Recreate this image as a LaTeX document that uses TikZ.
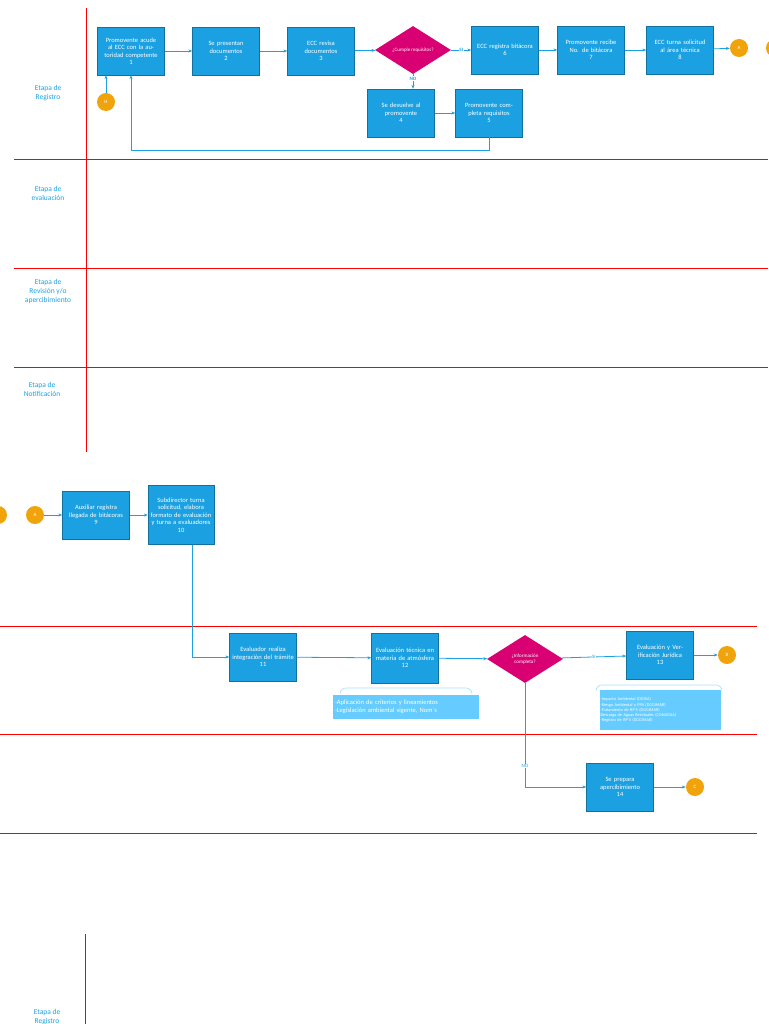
\documentclass[tikz,border=0pt]{standalone}
\usepackage{fontspec}
\setmainfont{Carlito}
\usetikzlibrary{shapes.geometric,arrows.meta}
\definecolor{bx}{HTML}{1BA1E2}
\definecolor{mg}{HTML}{D80073}
\definecolor{og}{HTML}{F0A30A}
\definecolor{lb}{HTML}{66CCFF}
\definecolor{lab}{HTML}{1BA1E2}
\begin{document}
\begin{tikzpicture}[x=1pt,y=-1pt,
 box/.style={fill=bx,draw=bx!70!black,line width=0.3pt,minimum width=67pt,minimum height=48pt,text width=62pt,align=center,text=white,font=\fontsize{6.5}{7.5}\selectfont,inner sep=1pt},
 dia/.style={diamond,aspect=1.6,fill=mg,minimum width=76pt,minimum height=48pt,inner sep=0pt,text=white,font=\fontsize{5}{6}\selectfont,align=center},
 circ/.style={circle,fill=og,minimum size=18pt,inner sep=0pt,text=white,font=\fontsize{5}{6}\selectfont},
 arr/.style={draw=bx,line width=0.8pt,-{Stealth[length=4pt]}},
 ln/.style={draw=bx,line width=0.8pt},
 red/.style={draw=red,line width=1pt},
 lane/.style={text=lab,align=center,font=\fontsize{7.5}{9}\selectfont},
 lbl/.style={text=bx,font=\fontsize{5}{6}\selectfont,fill=white,inner sep=0.5pt}]
\useasboundingbox (0,0) rectangle (768,1024);
% lanes
\draw[red] (86,8) -- (86,452);
\foreach \y in {160,268,367} \draw[red] (14,\y) -- (768,\y);
\foreach \y in {626,734,833} \draw[red] (0,\y) -- (757,\y);
\draw[red] (85,934) -- (85,1024);
\node[lane] at (48,93) {Etapa de\\Registro};
\node[lane] at (48,193) {Etapa de\\evaluación};
\node[lane] at (48,291) {Etapa de\\Revisión y/o\\apercibimiento};
\node[lane] at (42,389) {Etapa de\\Notificación};
\node[lane] at (47,1017) {Etapa de\\Registro};
% top
\node[box] (b1) at (131,51) {Promovente acude al ECC con la autoridad competente\\1};
\node[box] (b2) at (226,51) {Se presentan documentos\\2};
\node[box] (b3) at (321,51) {ECC revisa documentos\\3};
\node[dia] (d1) at (413,50) {¿Cumple requisitos?};
\node[box] (b6) at (505,50) {ECC registra bitácora\\6};
\node[box] (b7) at (591,50) {Promovente recibe No. de bitácora\\7};
\node[box] (b8) at (680,50) {ECC turna solicitud al área técnica\\8};
\node[circ] (cA) at (739,48) {A};
\node[circ] (cX) at (775,48) {};
\node[box] (b4) at (401,113) {Se devuelve al promovente\\4};
\node[box] (b5) at (489,113) {Promovente completa requisitos\\5};
\node[circ] (cH) at (106,102) {H};
\draw[arr] (b1) -- (b2);
\draw[arr] (b2) -- (b3);
\draw[arr] (b3) -- (d1);
\draw[arr] (d1) -- node[lbl]{\textbf{SI}} (b6);
\draw[arr] (b6) -- (b7);
\draw[arr] (b7) -- (b8);
\draw[arr] (b8) -- (cA);
\draw[arr] (d1.south) -- node[lbl,pos=0.3]{\textbf{NO}} (d1.south|-b4.north);
\draw[arr] (b4) -- (b5);
\draw[arr] (b5.south) |- (131,150) -- (b1.south);
\draw[arr] (cH) -- (cH|-b1.south);
% second part
\node[circ] (cY) at (-2,515) {};
\node[circ] (cA2) at (35,515) {A};
\node[box] (b9) at (96,515) {Auxiliar registra llegada de bitácoras\\9};
\node[box,minimum width=66pt,minimum height=59pt] (b10) at (181,515) {Subdirector turna solicitud, elabora formato de evaluación y turna a evaluadores\\10};
\node[box] (b11) at (263,657) {Evaluador realiza integración del trámite\\11};
\node[box,minimum height=50pt] (b12) at (405,658) {Evaluación técnica en materia de atmósfera\\12};
\node[dia] (d2) at (525,659) {¿Información\\completa?};
\node[box] (b13) at (660,655) {Evaluación y Verificación Jurídica\\13};
\node[circ] (cB) at (727,655) {B};
\node[box] (b14) at (620,787) {Se prepara apercibimiento\\14};
\node[circ] (cC) at (695,787) {C};
\node[fill=lb,minimum width=146pt,minimum height=24pt,text width=142pt,inner sep=1pt,text=white,font=\fontsize{6.5}{7.5}\selectfont,align=left] (n1) at (406,707) {-Aplicación de criterios y lineamientos\\-Legislación ambiental  vigente, Nom´s};
\node[fill=lb,minimum width=121pt,minimum height=40pt,text width=119pt,inner sep=1pt,text=white,font=\fontsize{4.3}{5.2}\selectfont,align=left] (n2) at (660,710) {-Impacto Ambiental (DGIRA)\\-Riesgo Ambiental y PPA (DGGIMAR)\\-Tratamiento de RP'S (DGGIMAR)\\Descarga de Aguas Residuales (CONAGUA)\\-Registro de RP´S (DGGIMAR)};
\draw[draw=lb!60,line width=0.6pt] (340,694) to[out=90,in=180] (346,688) -- (466,688) to[out=0,in=90] (472,694);
\draw[draw=lb!60,line width=0.6pt] (596,691) to[out=90,in=180] (602,685) -- (716,685) to[out=0,in=90] (722,691);
\draw[arr] (cA2) -- (b9);
\draw[arr] (b9) -- (b10);
\draw[arr] (192,545) |- (b11.west);
\draw[arr] (b11) -- (b12);
\draw[arr] (b12) -- (d2);
\draw[arr] (d2) -- node[lbl]{SI} (b13);
\draw[arr] (b13) -- (cB);
\draw[arr] (d2.south) |- node[lbl,pos=0.4]{NO} (b14.west);
\draw[arr] (b14) -- (cC);
\end{tikzpicture}
\end{document}
